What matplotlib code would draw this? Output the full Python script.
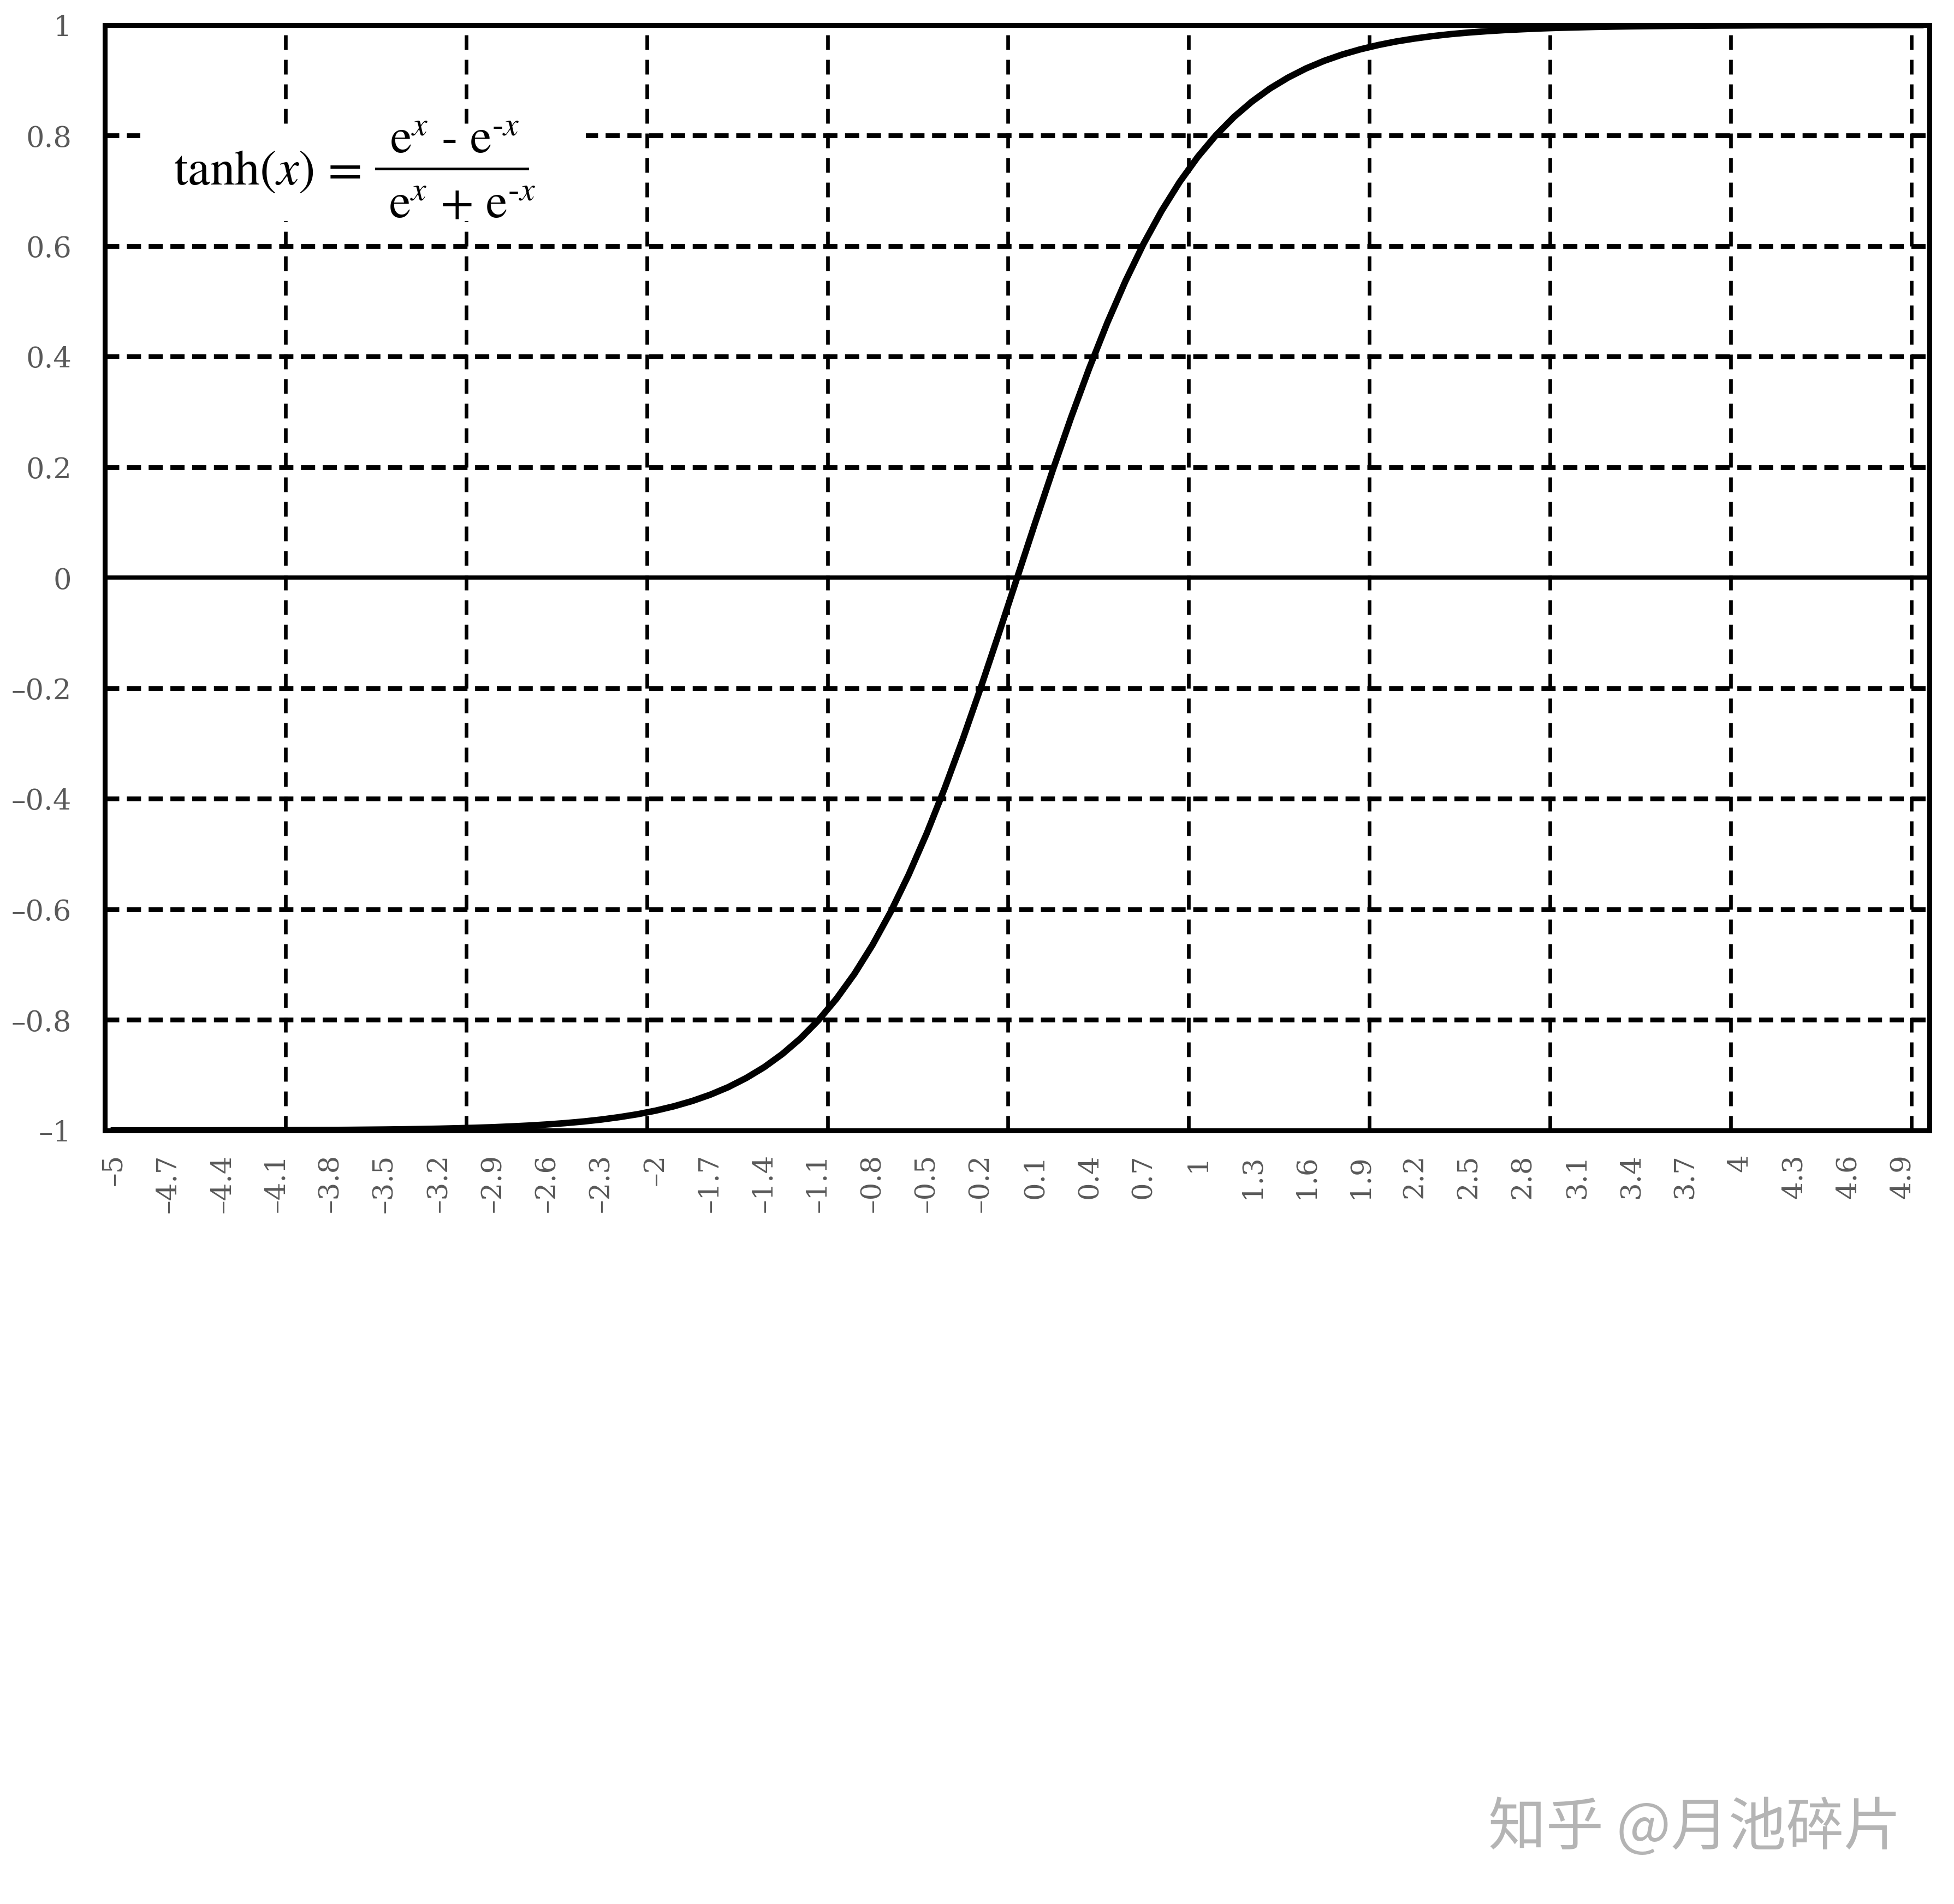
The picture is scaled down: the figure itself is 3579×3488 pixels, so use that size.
import numpy as np
import matplotlib
matplotlib.use("Agg")
import matplotlib.pyplot as plt
from matplotlib.patches import Rectangle
from matplotlib.lines import Line2D

plt.rcParams["mathtext.fontset"] = "stix"
plt.rcParams["lines.scale_dashes"] = False

# categories: x from -5 to 5 in steps of 0.1 (excel category axis)
x_cats = [round(k / 10, 1) for k in range(-50, 51)]

# tanh(x), one value per category
tanh_neg = [-0.9999, -0.9999, -0.9999, -0.9998, -0.9998, -0.9998, -0.9997, -0.9996, -0.9996, -0.9995,
            -0.9993, -0.9992, -0.9990, -0.9988, -0.9985, -0.9982, -0.9978, -0.9973, -0.9967, -0.9959,
            -0.9951, -0.9940, -0.9926, -0.9910, -0.9890, -0.9866, -0.9837, -0.9801, -0.9757, -0.9705,
            -0.9640, -0.9562, -0.9468, -0.9354, -0.9217, -0.9051, -0.8854, -0.8617, -0.8337, -0.8005,
            -0.7616, -0.7163, -0.6640, -0.6044, -0.5370, -0.4621, -0.3799, -0.2913, -0.1974, -0.0997]
tanh_pos = [0.0997, 0.1974, 0.2913, 0.3799, 0.4621, 0.5370, 0.6044, 0.6640, 0.7163, 0.7616,
            0.8005, 0.8337, 0.8617, 0.8854, 0.9051, 0.9217, 0.9354, 0.9468, 0.9562, 0.9640,
            0.9705, 0.9757, 0.9801, 0.9837, 0.9866, 0.9890, 0.9910, 0.9926, 0.9940, 0.9951,
            0.9959, 0.9967, 0.9973, 0.9978, 0.9982, 0.9985, 0.9988, 0.9990, 0.9992, 0.9993,
            0.9995, 0.9996, 0.9996, 0.9997, 0.9998, 0.9998, 0.9998, 0.9999, 0.9999, 0.9999]
tanh_vals = tanh_neg + [0.0] + tanh_pos

x_tick_labels = ["–5", "–4.7", "–4.4", "–4.1", "–3.8", "–3.5", "–3.2", "–2.9", "–2.6", "–2.3",
                 "–2", "–1.7", "–1.4", "–1.1", "–0.8", "–0.5", "–0.2", "0.1", "0.4", "0.7",
                 "1", "1.3", "1.6", "1.9", "2.2", "2.5", "2.8", "3.1", "3.4", "3.7",
                 "4", "4.3", "4.6", "4.9"]
y_ticks = [-1, -0.8, -0.6, -0.4, -0.2, 0, 0.2, 0.4, 0.6, 0.8, 1]
y_tick_labels = ["–1", "–0.8", "–0.6", "–0.4", "–0.2", "0", "0.2", "0.4", "0.6", "0.8", "1"]

W, H = 3580, 3488
fig = plt.figure(figsize=(W / 100, H / 100), dpi=100)
ax = fig.add_axes([192 / W, 1 - 2071 / H, (3534 - 192) / W, (2071 - 46) / H])

idx = np.arange(len(x_cats))
ax.plot(idx, tanh_vals, color="black", lw=8.5, zorder=4)
ax.set_xlim(-0.5, len(x_cats) - 0.5)
ax.set_ylim(-1, 1)

# vertical gridlines sit between categories, every 10
for b in idx[10::10] - 0.5:
    ax.axvline(b, color="black", lw=4.8, dashes=(19.4, 13), zorder=1)
for y in y_ticks[1:-1]:
    if y == 0:
        ax.axhline(y, color="black", lw=5.5, zorder=3)
    else:
        ax.axhline(y, color="black", lw=6.3, dashes=(18.7, 10), zorder=1)

# white box behind the formula
ax.add_patch(Rectangle(((257 - 192) / 3342, (2071 - 405) / 2025), (1073 - 257) / 3342, (405 - 227) / 2025,
                       transform=ax.transAxes, facecolor="white", edgecolor="none", zorder=2))

ax.set_xticks(idx[::3])
ax.set_xticklabels(x_tick_labels, rotation=90, fontsize=37, family="DejaVu Serif", color="#595959")
ax.set_yticks(y_ticks)
ax.set_yticklabels(y_tick_labels, fontsize=38, family="DejaVu Serif", color="#595959")
ax.tick_params(axis="x", length=0, pad=31)
ax.tick_params(axis="y", length=0, pad=44)

for s in ax.spines.values():
    s.set_linewidth(6.5)
    s.set_color("black")
    s.set_zorder(5)

# formula, built from pieces so the fraction is full size
fs = 64
fig.text(318 / W, 1 - 338 / H, r"tanh$(x)$ =", fontsize=66, family="STIXGeneral",
         ha="left", va="baseline", color="black")
fig.add_artist(Line2D([689 / W, 966 / W], [1 - 309 / H, 1 - 309 / H], lw=3.6, color="black"))
fig.text(833 / W, 1 - 280 / H, r"e$^{x}$ - e$^{\text{-}x}$", fontsize=fs, family="STIXGeneral",
         ha="center", va="baseline", color="black")
fig.text(847 / W, 1 - 398 / H, r"e$^{x}$ + e$^{\text{-}x}$", fontsize=fs, family="STIXGeneral",
         ha="center", va="baseline", color="black")

fig.text(3482 / W, 1 - 3350 / H, "知乎 @月池碎片", fontsize=76, color="#b4b4b4",
         ha="right", va="center", family=["Noto Sans CJK SC", "DejaVu Sans"])

fig.savefig("out.png", dpi=100)
